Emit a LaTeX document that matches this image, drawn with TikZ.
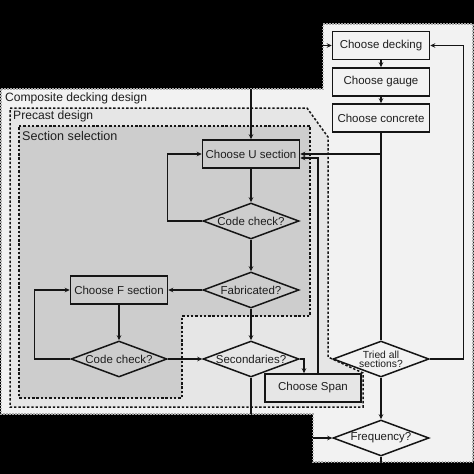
\documentclass[tikz,border=0pt]{standalone}
\usepackage{fontspec}
\setmainfont{Liberation Sans}
\usetikzlibrary{shapes.geometric,arrows.meta,calc}
\newcommand\nodefnt{\fontsize{11.5}{13}\selectfont}
\newcommand\smallfnt{\fontsize{10.3}{9}\selectfont}
\definecolor{outerc}{HTML}{F2F2F2}
\definecolor{precc}{HTML}{E6E6E6}
\definecolor{secc}{HTML}{CDCDCD}
\definecolor{txtc}{HTML}{1E1E1E}
\definecolor{linec}{HTML}{151515}
\begin{document}
\begin{tikzpicture}[x=1pt,y=-1pt,
  box/.style={draw=linec,line width=1.5pt,minimum width=97pt,minimum height=28pt,inner sep=0pt,font=\nodefnt,text=txtc},
  dia/.style={draw=linec,line width=1.5pt,shape=diamond,minimum width=96pt,minimum height=36pt,inner sep=0pt},
  dlab/.style={font=\nodefnt,text=txtc,inner sep=0pt},
  arr/.style={draw=linec,line width=1.4pt,-{Stealth[length=5pt,width=4.5pt]}},
  ln/.style={draw=linec,line width=1.4pt},
  region/.style={draw=linec,line width=1.5pt,dash pattern=on 2.4pt off 1.9pt},
  lbl/.style={anchor=west,inner sep=0pt,text=txtc}
]
\fill[black] (0,0) rectangle (474,474);
\useasboundingbox (0,0) rectangle (474,474);

% regions
\fill[outerc] (1,89) -- (323,89) -- (323,24) -- (473,24) -- (473,462) -- (313,462) -- (313,414) -- (1,414) -- cycle;
\draw[gray!65,line width=1.5pt,dash pattern=on 1.5pt off 1.5pt] (1,89) -- (323,89) -- (323,24) -- (473,24) -- (473,462) -- (313,462) -- (313,414) -- (1,414) -- cycle;
\filldraw[fill=precc,region] (10,108) -- (307,108) -- (328,137) -- (328,357) -- (363,373) -- (363,407) -- (10,407) -- cycle;
\filldraw[fill=secc,region] (19,126) -- (310,126) -- (310,316) -- (182,316) -- (182,398) -- (19,398) -- cycle;

\node[lbl,font=\fontsize{12.1}{14}\selectfont] (lcomp) at (5,98) {Composite decking design};
\node[lbl,font=\fontsize{12.1}{14}\selectfont] (lprec) at (13,116.5) {Precast design};
\node[lbl,font=\fontsize{12.6}{14}\selectfont] (lsec) at (22,135.5) {Section selection};

% nodes
\node[box] (deck) at (381,45.5) {Choose decking};
\node[box] (gauge) at (381,82) {Choose gauge};
\node[box] (conc) at (381,118) {Choose concrete};
\node[box] (U) at (251,154) {Choose U section};
\node[dia,label={[dlab]center:Code check?}] (cc1) at (251,221) {};
\node[dia,label={[dlab]center:Fabricated?}] (fab) at (251,290) {};
\node[box] (F) at (119,290) {Choose F section};
\node[dia,label={[dlab]center:Code check?}] (cc2) at (119,359) {};
\node[dia,label={[dlab]center:Secondaries?}] (sec) at (251,359) {};
\node[box,minimum width=96pt] (span) at (313,388) {Choose Span};
\node[dia,label={[dlab,font=\smallfnt,align=center]center:Tried all\\sections?}] (tried) at (381,359) {};
\node[dia,label={[dlab]center:Frequency?}] (freq) at (381,438) {};

% free ends
\coordinate (inU) at (251,89);
\coordinate (inDeck) at (323,45.5);
\coordinate (inFreq) at (313,438);
\coordinate (outSec) at (251,414);
\coordinate (outFreq) at (381,462);

% connectors
\draw[arr] (inU) -- (U.north);
\draw[arr] (inDeck) -- (deck.west);
\draw[arr] (inFreq) -- (freq.west);
\draw[arr] (deck.south) -- (gauge.north);
\draw[arr] (gauge.south) -- (conc.north);
\draw[arr] (conc.south) |- (U.east);
\draw[ln] (tried.north) -- (tried.north |- U.east);
\draw[arr] ([xshift=5pt]span.north) |- ([yshift=-4pt]U.east);
\draw[arr] (U.south) -- (cc1.north);
\draw[arr] (cc1.west) -- ++(-35,0) |- (U.west);
\draw[arr] (cc1.south) -- (fab.north);
\draw[arr] (fab.west) -- (F.east);
\draw[arr] (fab.south) -- (sec.north);
\draw[arr] (F.south) -- (cc2.north);
\draw[arr] (cc2.west) -- ++(-36,0) |- (F.west);
\draw[arr] (cc2.east) -- (sec.west);
\draw[arr] (sec.east) -| ([xshift=-9pt]span.north);
\draw[ln] (sec.south) -- (outSec);
\draw[arr] (tried.east) -- ++(34,0) |- (deck.east);
\draw[arr] (tried.south) -- (freq.north);
\draw[ln] (freq.south) -- (outFreq);
\end{tikzpicture}
\end{document}
